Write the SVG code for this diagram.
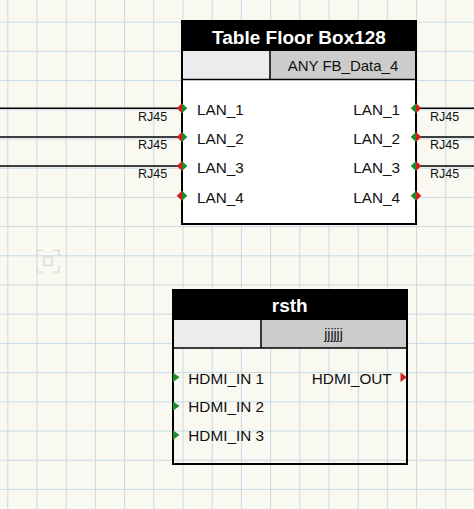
<svg xmlns="http://www.w3.org/2000/svg" width="474" height="509" viewBox="0 0 474 509">
<style>
text{font-family:"Liberation Sans",Arial,sans-serif;fill:#111}
.title{font-weight:bold;font-size:19px;fill:#fff;text-anchor:middle}
.sub{font-size:15px;text-anchor:middle}
.lbl{font-size:15.3px}
.lblr{font-size:15.3px;text-anchor:end}
.rj{font-size:12.5px}
.frame{fill:none;stroke:#000;stroke-width:2}
.wire{stroke:#000;stroke-width:1.5;fill:none}
.red{fill:#d0201c}
.grn{fill:#1e8a2c}
</style>
<defs>
<pattern id="grid" x="7.3" y="21.7" width="29.2" height="29.2" patternUnits="userSpaceOnUse">
<path d="M0.5 0V29.2M0 0.5H29.2" stroke="#c6dbe7" stroke-width="1" fill="none"/>
</pattern>
<g id="dl"><path class="red" d="M-5.3 0L0 -5V5Z"/><path class="grn" d="M0 -5L5.3 0L0 5Z"/></g>
<g id="dr"><path class="grn" d="M-5.3 0L0 -5V5Z"/><path class="red" d="M0 -5L5.3 0L0 5Z"/></g>
</defs>
<rect width="474" height="509" fill="#f9f8f1"/>
<rect width="474" height="509" fill="url(#grid)"/>
<g id="icon" fill="none" stroke="#d6d6d2" stroke-width="1.2">
<path d="M37 256V250.5H43M53 250.5H59V256M59 266V272H53M43 272H37V266"/>
<rect x="44" y="257" width="8" height="8.5"/>
</g>
<g id="connectors">
<path class="wire" d="M0 108.3H182M0 137H182M0 166H182M416 108.3H474M416 137H474M416 166H474"/>
<text class="rj" x="138" y="120.7">RJ45</text>
<text class="rj" x="138" y="149.4">RJ45</text>
<text class="rj" x="138" y="178.4">RJ45</text>
<text class="rj" x="430" y="120.7">RJ45</text>
<text class="rj" x="430" y="149.4">RJ45</text>
<text class="rj" x="430" y="178.4">RJ45</text>
</g>
<g id="node-tablefloorbox">
<rect x="182" y="21" width="234" height="203" fill="#fff"/>
<rect x="182" y="21" width="234" height="30" fill="#000"/>
<rect x="182" y="51" width="88" height="28.5" fill="#ececec"/>
<rect x="270" y="51" width="146" height="28.5" fill="#cccccc"/>
<path d="M182 79.5H416M270 51V79.5" stroke="#000" stroke-width="1.5"/>
<rect class="frame" x="182" y="21" width="234" height="203"/>
<text class="title" x="299" y="43.5">Table Floor Box128</text>
<text class="sub" x="343" y="70.5">ANY FB_Data_4</text>
<text class="lbl" x="197" y="115.2">LAN_1</text>
<text class="lbl" x="197" y="143.9">LAN_2</text>
<text class="lbl" x="197" y="172.9">LAN_3</text>
<text class="lbl" x="197" y="202.7">LAN_4</text>
<text class="lblr" x="400" y="115.2">LAN_1</text>
<text class="lblr" x="400" y="143.9">LAN_2</text>
<text class="lblr" x="400" y="172.9">LAN_3</text>
<text class="lblr" x="400" y="202.7">LAN_4</text>
<use href="#dl" x="182" y="108.3"/>
<use href="#dl" x="182" y="137"/>
<use href="#dl" x="182" y="166"/>
<use href="#dl" x="182" y="195.8"/>
<use href="#dr" x="416" y="108.3"/>
<use href="#dr" x="416" y="137"/>
<use href="#dr" x="416" y="166"/>
<use href="#dr" x="416" y="195.8"/>
</g>
<g id="node-rsth">
<rect x="173" y="290" width="234" height="30" fill="#000"/>
<rect x="173" y="320" width="88" height="28" fill="#ececec"/>
<rect x="261" y="320" width="146" height="28" fill="#cccccc"/>
<path d="M173 348H407M261 320V348" stroke="#000" stroke-width="1.5"/>
<rect class="frame" x="173" y="290" width="234" height="174"/>
<text class="title" x="289.7" y="312.3">rsth</text>
<text class="sub" x="333.5" y="339" style="font-size:14px">jjjjjj</text>
<text class="lbl" x="188.3" y="383.6">HDMI_IN 1</text>
<text class="lbl" x="188.3" y="412.3">HDMI_IN 2</text>
<text class="lbl" x="188.3" y="441.3">HDMI_IN 3</text>
<text class="lblr" x="391.7" y="383.6">HDMI_OUT</text>
<path class="grn" d="M173 372.5L179.5 377.3L173 382.1Z"/>
<path class="grn" d="M173 401.2L179.5 406L173 410.8Z"/>
<path class="grn" d="M173 430.2L179.5 435L173 439.8Z"/>
<path class="red" d="M400.5 372.5L407 377.3L400.5 382.1Z"/>
</g>
</svg>
